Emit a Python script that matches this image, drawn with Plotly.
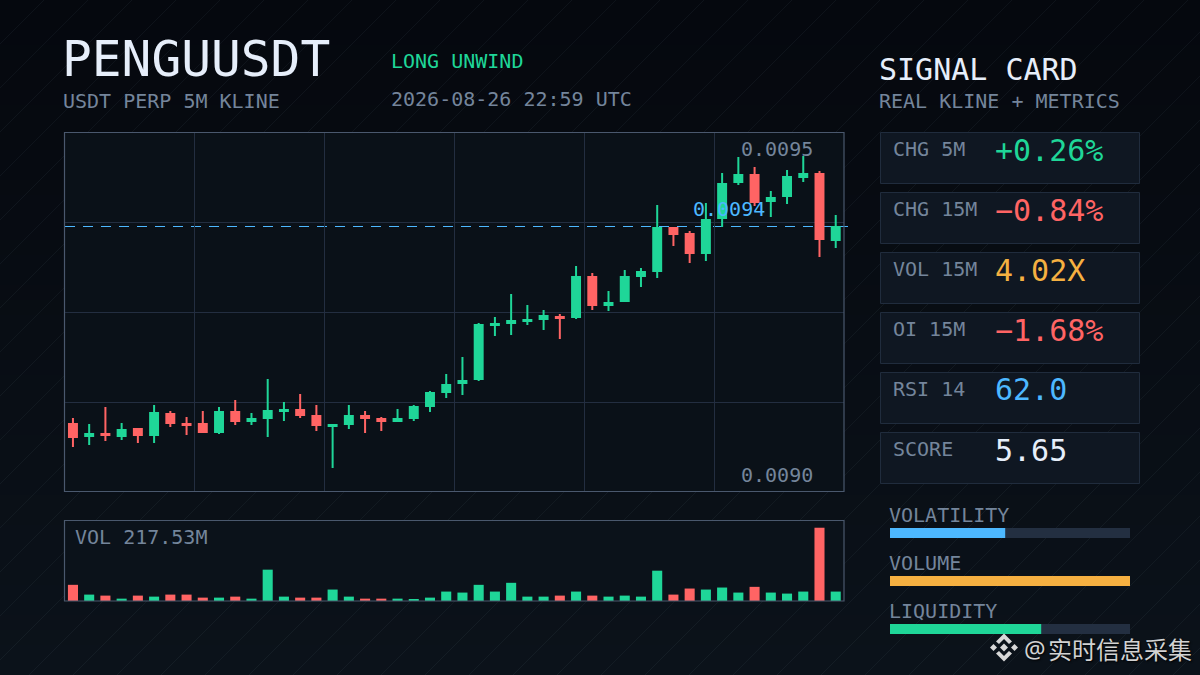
import plotly.graph_objects as go

W, H = 1200, 675
MONO = "DejaVu Sans Mono"

GREEN = "#1fd698"
RED = "#ff6464"
BLUE = "#4db8ff"
ORANGE = "#f5b041"
WHITE = "#e6eefa"
GRAY = "#74859b"

# 48 five minute candles
candle_index = list(range(48))
opens = [0.0090712, 0.0090520, 0.0090552, 0.0090520, 0.0090632, 0.0090536, 0.0090872, 0.0090712,
         0.0090712, 0.0090584, 0.0090904, 0.0090760, 0.0090808, 0.0090920, 0.0090936, 0.0090840,
         0.0090680, 0.0090712, 0.0090840, 0.0090792, 0.0090760, 0.0090808, 0.0091000, 0.0091224,
         0.0091368, 0.0091432, 0.0092296, 0.0092328, 0.0092360, 0.0092392, 0.0092424, 0.0092424,
         0.0093064, 0.0092616, 0.0092680, 0.0093080, 0.0093160, 0.0093848, 0.0093752, 0.0093448,
         0.0094008, 0.0094584, 0.0094696, 0.0094280, 0.0094360, 0.0094664, 0.0094712, 0.0093656]
highs = [0.0090808, 0.0090712, 0.0090984, 0.0090728, 0.0090648, 0.0091016, 0.0090920, 0.0090824,
         0.0090920, 0.0090984, 0.0091096, 0.0090888, 0.0091432, 0.0091064, 0.0091192, 0.0091016,
         0.0090712, 0.0091016, 0.0090920, 0.0090824, 0.0090952, 0.0091016, 0.0091240, 0.0091512,
         0.0091784, 0.0092328, 0.0092424, 0.0092792, 0.0092616, 0.0092536, 0.0092472, 0.0093240,
         0.0093128, 0.0092840, 0.0093176, 0.0093208, 0.0094216, 0.0093864, 0.0093800, 0.0094248,
         0.0094728, 0.0094984, 0.0094824, 0.0094440, 0.0094776, 0.0095000, 0.0094760, 0.0094056]
lows = [0.0090344, 0.0090376, 0.0090440, 0.0090456, 0.0090408, 0.0090408, 0.0090664, 0.0090536,
        0.0090568, 0.0090552, 0.0090696, 0.0090696, 0.0090504, 0.0090760, 0.0090808, 0.0090600,
        0.0090008, 0.0090632, 0.0090568, 0.0090600, 0.0090744, 0.0090760, 0.0090904, 0.0091128,
        0.0091176, 0.0091400, 0.0092120, 0.0092136, 0.0092296, 0.0092216, 0.0092072, 0.0092392,
        0.0092536, 0.0092520, 0.0092664, 0.0092904, 0.0093048, 0.0093560, 0.0093288, 0.0093320,
        0.0093864, 0.0094536, 0.0094200, 0.0094024, 0.0094232, 0.0094584, 0.0093384, 0.0093528]
closes = [0.0090504, 0.0090552, 0.0090536, 0.0090616, 0.0090536, 0.0090888, 0.0090728, 0.0090696,
          0.0090584, 0.0090904, 0.0090760, 0.0090792, 0.0090920, 0.0090936, 0.0090856, 0.0090696,
          0.0090696, 0.0090840, 0.0090808, 0.0090760, 0.0090792, 0.0090984, 0.0091208, 0.0091336,
          0.0091400, 0.0092296, 0.0092312, 0.0092360, 0.0092376, 0.0092440, 0.0092408, 0.0093064,
          0.0092616, 0.0092648, 0.0093064, 0.0093144, 0.0093848, 0.0093752, 0.0093448, 0.0093976,
          0.0094552, 0.0094696, 0.0094264, 0.0094328, 0.0094664, 0.0094712, 0.0093672, 0.0093864]
# volume in millions
volumes = [48, 19, 16, 7, 16, 13, 19, 19, 10, 10, 13, 7, 93, 13, 10, 10,
           34, 13, 7, 7, 7, 4, 10, 28, 25, 48, 28, 54, 13, 13, 16, 28,
           16, 13, 16, 13, 90, 19, 37, 34, 40, 25, 42, 25, 22, 28, 217.53, 28]
last_price = 0.0093872

metric_names = ["CHG 5M", "CHG 15M", "VOL 15M", "OI 15M", "RSI 14", "SCORE"]
metric_values = ["+0.26%", "\u22120.84%", "4.02X", "\u22121.68%", "62.0", "5.65"]
metric_colors = [GREEN, RED, ORANGE, RED, BLUE, WHITE]

gauge_names = ["VOLATILITY", "VOLUME", "LIQUIDITY"]
gauge_values = [48, 100, 63]
gauge_colors = [BLUE, ORANGE, GREEN]


def px(x):
    return x / W


def py(y):
    return 1 - y / H


def dom_x(a, b):
    return [px(a), px(b)]


def dom_y(top, bottom):
    return [py(bottom), py(top)]


def rect(x0, y0, x1, y1, fill, line="rgba(0,0,0,0)", width=0, layer="below"):
    return dict(type="rect", xref="paper", yref="paper", x0=px(x0), x1=px(x1), y0=py(y1), y1=py(y0),
                fillcolor=fill, line=dict(color=line, width=width), layer=layer)


def label(x, y, text, size=20, color=GRAY, family=MONO, **kw):
    return dict(x=px(x), y=py(y), xref="paper", yref="paper", text=text, showarrow=False,
                xanchor="left", yanchor="middle", borderpad=0,
                font=dict(family=family, size=size, color=color, **kw))


shapes = []
# background gradient, top to bottom
for i in range(45):
    t = i / 44
    c = (round(5 + 6 * t), round(8 + 10 * t), round(14 + 12 * t))
    shapes.append(rect(0, i * 15, W, (i + 1) * 15 + 1, "rgb(%d,%d,%d)" % c))

# diagonal hairlines
path = ""
for d in range(44, W + H, 44):
    path += "M%.5f,%.5f L%.5f,%.5f " % (px(d), py(0), px(0), py(d))
shapes.append(dict(type="path", xref="paper", yref="paper", path=path, layer="below",
                   line=dict(color="rgba(190,210,235,0.055)", width=1)))

# chart panels
shapes.append(rect(65, 132, 844, 492, "#0a1118"))
shapes.append(rect(65, 520, 844, 601, "#0b121a"))

# metric cards
for i in range(len(metric_names)):
    shapes.append(rect(880.5, 132.5 + 60 * i, 1139.5, 183.5 + 60 * i, "#0f1722", "#202c3d", 1))

# last price line
shapes.append(dict(type="line", xref="paper", yref="y", x0=px(65), x1=px(848), y0=last_price, y1=last_price,
                   layer="below", line=dict(color=BLUE, width=1.2, dash="10px,8px")))

# panel borders on top of the marks
shapes.append(rect(64.5, 132.5, 844, 491.5, "rgba(0,0,0,0)", "#4a586d", 1.2, "above"))
shapes.append(rect(64.5, 520.5, 844, 601, "rgba(0,0,0,0)", "#4a586d", 1.2, "above"))

# binance style mark for the watermark
cx, cy = 1004, 647.5


def poly(points):
    s = "M" + " L".join("%.5f,%.5f" % (px(cx + a), py(cy + b)) for a, b in points) + " Z"
    return dict(type="path", xref="paper", yref="paper", path=s, fillcolor="#d8d8d8", layer="above", line=dict(width=0))


shapes.append(poly([(0, -4), (4, 0), (0, 4), (-4, 0)]))
shapes.append(poly([(-14, 0), (-10.5, -3.5), (-7, 0), (-10.5, 3.5)]))
shapes.append(poly([(14, 0), (10.5, -3.5), (7, 0), (10.5, 3.5)]))
shapes.append(poly([(0, -14), (8, -6), (5, -3.5), (0, -8.5), (-5, -3.5), (-8, -6)]))
shapes.append(poly([(0, 14), (8, 6), (5, 3.5), (0, 8.5), (-5, 3.5), (-8, 6)]))

annotations = [
    label(61, 59, "PENGUUSDT", 49.5, WHITE),
    label(62, 101, "USDT PERP 5M KLINE"),
    label(390, 61, "LONG UNWIND", color=GREEN),
    label(390, 99, "2026-08-26 22:59 UTC"),
    label(878, 69, "SIGNAL CARD", 30, WHITE),
    label(878, 101, "REAL KLINE + METRICS"),
    label(740, 149, "0.0095"),
    label(740, 475, "0.0090"),
    label(692, 209, "0.0094", color=BLUE),
    label(74, 537, "VOL 217.53M"),
    label(1023, 648, "@", 24, "#d2d2d2", "Noto Sans", shadow="1px 1px 2px #000"),
    label(1047, 648, "实时信息采集", 24, "#d2d2d2", "Noto Sans CJK SC", shadow="1px 1px 2px #000"),
]
for i, name in enumerate(metric_names):
    annotations.append(label(892, 149 + 60 * i, name))
    annotations.append(label(994, 150 + 60 * i, metric_values[i], 30, metric_colors[i]))
for i, name in enumerate(gauge_names):
    annotations.append(label(888, 515 + 48 * i, name))

fig = go.Figure()

fig.add_trace(go.Candlestick(
    x=candle_index, open=opens, high=highs, low=lows, close=closes,
    increasing=dict(line=dict(color=GREEN, width=2), fillcolor=GREEN),
    decreasing=dict(line=dict(color=RED, width=2), fillcolor=RED),
    whiskerwidth=0, xaxis="x", yaxis="y", hoverinfo="skip",
))

vol_colors = [GREEN if c >= o else RED for o, c in zip(opens, closes)]
fig.add_trace(go.Bar(x=candle_index, y=volumes, width=0.62, marker=dict(color=vol_colors, line=dict(width=0)),
                     xaxis="x2", yaxis="y2", hoverinfo="skip"))

# gauges: dark track, then the filled part
fig.add_trace(go.Bar(x=[100] * 3, y=gauge_names, orientation="h", width=0.208, marker=dict(color="#232f41", line=dict(width=0)),
                     xaxis="x3", yaxis="y3", hoverinfo="skip"))
fig.add_trace(go.Bar(x=gauge_values, y=gauge_names, orientation="h", width=0.208, marker=dict(color=gauge_colors, line=dict(width=0)),
                     xaxis="x3", yaxis="y3", hoverinfo="skip"))

hidden = dict(showticklabels=False, ticks="", zeroline=False, showline=False, fixedrange=True)

fig.update_layout(
    width=W, height=H, margin=dict(l=0, r=0, t=0, b=0), autosize=False,
    paper_bgcolor="#070b12", plot_bgcolor="rgba(0,0,0,0)", showlegend=False,
    barmode="overlay", boxgap=0.3, boxgroupgap=0.3,
    shapes=shapes, annotations=annotations,
    xaxis=dict(domain=dom_x(65, 844), range=[-0.49, 47.51], tick0=-0.5, dtick=8, showgrid=True, gridcolor="#232e40",
               gridwidth=1, rangeslider=dict(visible=False), **hidden),
    yaxis=dict(domain=dom_y(132, 492), range=[0.0089624, 0.0095384], tick0=0.0089624, dtick=0.000144, showgrid=True,
               gridcolor="#232e40", gridwidth=1, **hidden),
    xaxis2=dict(domain=dom_x(65, 844), range=[-0.49, 47.51], showgrid=False, anchor="y2", **hidden),
    yaxis2=dict(domain=dom_y(521, 601), range=[0, 237.5], showgrid=False, anchor="x2", **hidden),
    xaxis3=dict(domain=dom_x(890, 1130), range=[0, 100], showgrid=False, anchor="y3", **hidden),
    yaxis3=dict(domain=dom_y(509, 653), range=[2.5, -0.5], showgrid=False, anchor="x3", type="category",
                categoryorder="array", categoryarray=gauge_names, **hidden),
)

fig.write_html("out.html", config=dict(displayModeBar=False),
               post_script="document.body.style.margin='0';document.body.style.overflow='hidden';")
